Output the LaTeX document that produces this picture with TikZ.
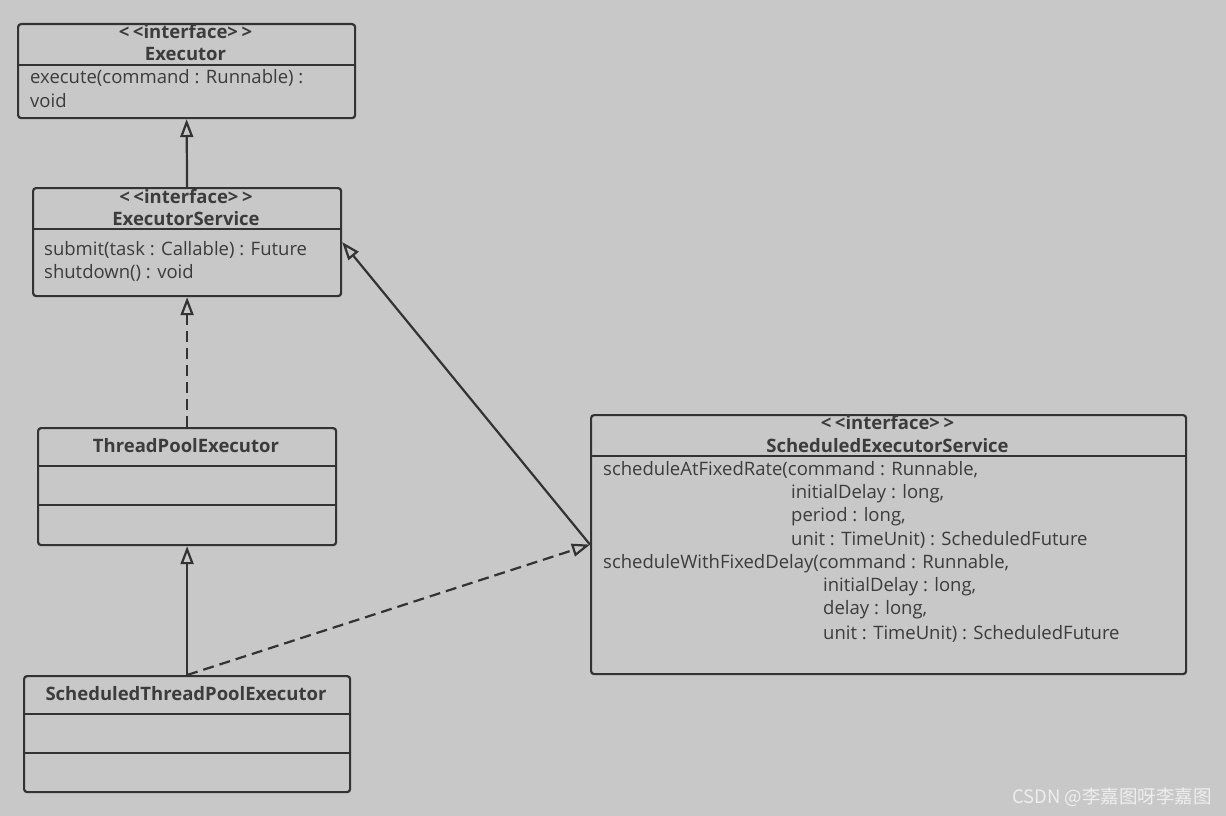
\documentclass[tikz,border=0pt]{standalone}
\usepackage{fontspec}
\setmainfont{Open Sans}
\newfontfamily\cjkfont{Noto Sans CJK SC}
\usetikzlibrary{arrows.meta}
\definecolor{bg}{HTML}{C8C8C8}
\definecolor{ink}{HTML}{333333}
\definecolor{txt}{HTML}{3C3C3C}
\definecolor{wm}{HTML}{EEEEEE}
\begin{document}
\begin{tikzpicture}[x=1pt,y=-1pt,
  umlbox/.style={draw=ink, line width=2.2pt, rounded corners=3pt, inner sep=0pt, anchor=north west},
  divider/.style={draw=ink, line width=2.2pt},
  ttl/.style={font=\fontsize{18.5}{20}\selectfont\bfseries, text=txt, inner sep=0pt},
  meth/.style={font=\fontsize{18.5}{20}\selectfont, text=txt, inner sep=0pt, anchor=west},
  gen/.style={draw=ink, line width=2.2pt, -{Triangle[open, length=18pt, width=13pt, line width=2.2pt]}},
  real/.style={gen, dash pattern=on 11pt off 6pt}
]
\fill[bg] (0,0) rectangle (1226,816);
\useasboundingbox (0,0) rectangle (1226,816);

% Executor
\node[umlbox, minimum width=337pt, minimum height=94pt] (exec) at (17,23) {};
\draw[divider] (17,65) -- (354,65);
\node[ttl] (execst) at (185.5,32) {<\kern3.5pt<interface>\kern3.5pt>};
\node[ttl] (exectl) at (185.5,54) {Executor};
\node[meth] (execm1) at (30,78) {execute(command : Runnable) :};
\node[meth] (execm2) at (30,101) {void};

% ExecutorService
\node[umlbox, minimum width=308pt, minimum height=108pt] (es) at (32,187) {};
\draw[divider] (32,229) -- (340,229);
\node[ttl] (esst) at (186,197) {<\kern3.5pt<interface>\kern3.5pt>};
\node[ttl] (estl) at (186,219) {ExecutorService};
\node[meth] (esm1) at (44,250) {submit(task : Callable) : Future};
\node[meth] (esm2) at (44,273) {shutdown() : void};

% ThreadPoolExecutor
\node[umlbox, minimum width=298pt, minimum height=117pt] (tpe) at (37,427) {};
\draw[divider] (37,466) -- (335,466);
\draw[divider] (37,505) -- (335,505);
\node[ttl] (tpetl) at (186,446) {ThreadPoolExecutor};

% ScheduledThreadPoolExecutor
\node[umlbox, minimum width=326pt, minimum height=116pt] (stpe) at (23,675) {};
\draw[divider] (23,714) -- (349,714);
\draw[divider] (23,753) -- (349,753);
\node[ttl] (stpetl) at (186,694) {ScheduledThreadPoolExecutor};

% ScheduledExecutorService
\node[umlbox, minimum width=595pt, minimum height=259pt] (ses) at (590,414) {};
\draw[divider] (590,456) -- (1185,456);
\node[ttl] (sesst) at (887.5,423) {<\kern3.5pt<interface>\kern3.5pt>};
\node[ttl] (sestl) at (887.5,446) {ScheduledExecutorService};
\node[meth] (sm1) at (603,470) {scheduleAtFixedRate(command : Runnable,};
\node[meth] (sm2) at (791,494) {initialDelay : long,};
\node[meth] (sm3) at (791,517) {period : long,};
\node[meth] (sm4) at (791,540) {unit : TimeUnit) : ScheduledFuture};
\node[meth] (sm5) at (603,564) {scheduleWithFixedDelay(command : Runnable,};
\node[meth] (sm6) at (823,587) {initialDelay : long,};
\node[meth] (sm7) at (823,610) {delay : long,};
\node[meth] (sm8) at (823,634) {unit : TimeUnit) : ScheduledFuture};

% connectors
\draw[gen] (es.north) -- (exec.south);
\draw[real] (tpe.north) -- (es.south);
\draw[gen] (stpe.north) -- (tpe.south);
\draw[real] (stpe.north) -- (ses.west);
\draw[gen] (ses.west) -- (es.east);

% watermark
\node[font=\cjkfont\fontsize{18.5}{20}\selectfont, text=wm, inner sep=0pt, anchor=east] (wmk) at (1212,797) {CSDN @李嘉图呀李嘉图};
\end{tikzpicture}
\end{document}
